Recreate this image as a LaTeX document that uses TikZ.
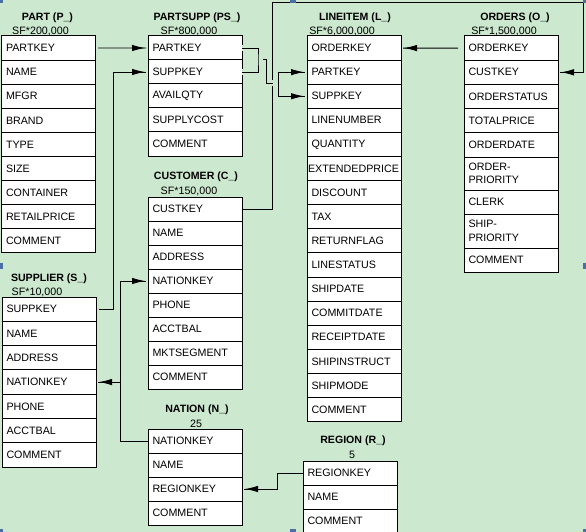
\documentclass[tikz,border=0pt]{standalone}
\usepackage{fontspec}
\setmainfont{Liberation Sans}
\usepackage{tikz}
\usetikzlibrary{arrows.meta,positioning,decorations.markings}

\definecolor{sheetgreen}{RGB}{204,232,207}
\definecolor{handleblue}{RGB}{74,110,165}
\newcommand\rowfont{\fontsize{10.7}{13.5}\selectfont}
\newcommand\titlefont{\bfseries\fontsize{10.6}{12}\selectfont}

\tikzset{
  field/.style={draw, fill=white, line width=1pt, outer sep=0pt, anchor=north west,
    text width=85pt, inner xsep=4.5pt, inner ysep=0pt,
    minimum height=24.1pt, align=left, font=\rowfont},
  tbltitle/.style={font=\titlefont, inner sep=0pt},
  tblsize/.style={font=\rowfont, inner sep=0pt},
  link/.style={line width=0.9pt},
  fk/.style={link, shorten >=2pt, postaction={decorate},
    decoration={markings, mark=at position -3pt with {\arrow{Latex[length=13pt,width=6.5pt]}}}},
  bridge/.style={link, preaction={draw=sheetgreen, line width=6pt}},
  handle/.style={fill=handleblue},
}

\begin{document}
\begin{tikzpicture}[x=1pt,y=-1pt]
  \useasboundingbox (0,0) rectangle (586,532);
  \fill[sheetgreen] (0,0) rectangle (586,532);
  \clip (0,0) rectangle (586,532);

  % PART
  \node[tbltitle] (part-title) at (47.5,18) {PART (P\_)};
  \node[tblsize] (part-sf) at (40.5,31.5) {SF*200,000};
  \foreach \f [count=\i] in {PARTKEY,NAME,MFGR,BRAND,TYPE,SIZE,CONTAINER,RETAILPRICE,COMMENT}
    \node[field] (part-\i) at (1.5,{36+24.1*(\i-1)}) {\f};

  % PARTSUPP
  \node[tbltitle] (ps-title) at (197,18) {PARTSUPP (PS\_)};
  \node[tblsize] (ps-sf) at (189,31.5) {SF*800,000};
  \foreach \f [count=\i] in {PARTKEY,SUPPKEY,AVAILQTY,SUPPLYCOST,COMMENT}
    \node[field, minimum height=24pt] (ps-\i) at (148,{36+24*(\i-1)}) {\f};

  % CUSTOMER
  \node[tbltitle] (cust-title) at (196,177) {CUSTOMER (C\_)};
  \node[tblsize] (cust-sf) at (189,191.5) {SF*150,000};
  \foreach \f [count=\i] in {CUSTKEY,NAME,ADDRESS,NATIONKEY,PHONE,ACCTBAL,MKTSEGMENT,COMMENT}
    \node[field, minimum height=24pt] (cust-\i) at (148,{197+24*(\i-1)}) {\f};

  % SUPPLIER
  \node[tbltitle] (supp-title) at (49,279) {SUPPLIER (S\_)};
  \node[tblsize] (supp-sf) at (37,292.5) {SF*10,000};
  \foreach \f [count=\i] in {SUPPKEY,NAME,ADDRESS,NATIONKEY,PHONE,ACCTBAL,COMMENT}
    \node[field, minimum height=24.3pt] (supp-\i) at (2,{297+24.3*(\i-1)}) {\f};

  % NATION
  \node[tbltitle] (nation-title) at (197,410) {NATION (N\_)};
  \node[tblsize] (nation-sf) at (196,423.5) {25};
  \foreach \f [count=\i] in {NATIONKEY,NAME,REGIONKEY,COMMENT}
    \node[field, minimum height=24pt] (nation-\i) at (148,{429+24*(\i-1)}) {\f};

  % LINEITEM
  \node[tbltitle] (li-title) at (355,18) {LINEITEM (L\_)};
  \node[tblsize] (li-sf) at (342,31.5) {SF*6,000,000};
  \foreach \f [count=\i] in {ORDERKEY,PARTKEY,SUPPKEY,LINENUMBER,QUANTITY,{\hspace*{-3.5pt}\mbox{EXTENDEDPRICE}},DISCOUNT,TAX,RETURNFLAG,LINESTATUS,SHIPDATE,COMMITDATE,RECEIPTDATE,SHIPINSTRUCT,SHIPMODE,COMMENT}
    \node[field] (li-\i) at (307,{36+24.1*(\i-1)}) {\f};

  % ORDERS
  \node[tbltitle] (orders-title) at (515,18) {ORDERS (O\_)};
  \node[tblsize] (orders-sf) at (504,31.5) {SF*1,500,000};
  \node[field, minimum height=24.2pt] (orders-1) at (464,36) {ORDERKEY};
  \node[field, minimum height=24.2pt, below=0pt of orders-1] (orders-2) {CUSTKEY};
  \node[field, minimum height=24.2pt, below=0pt of orders-2] (orders-3) {ORDERSTATUS};
  \node[field, minimum height=24.2pt, below=0pt of orders-3] (orders-4) {TOTALPRICE};
  \node[field, minimum height=24.2pt, below=0pt of orders-4] (orders-5) {ORDERDATE};
  \node[field, minimum height=33pt, below=0pt of orders-5] (orders-6) {ORDER-\\PRIORITY};
  \node[field, minimum height=24pt, below=0pt of orders-6] (orders-7) {CLERK};
  \node[field, minimum height=34pt, below=0pt of orders-7] (orders-8) {SHIP-\\PRIORITY};
  \node[field, minimum height=24pt, below=0pt of orders-8] (orders-9) {COMMENT};

  % REGION
  \node[tbltitle] (region-title) at (353,441) {REGION (R\_)};
  \node[tblsize] (region-sf) at (352,454.5) {5};
  \foreach \f [count=\i] in {REGIONKEY,NAME,COMMENT}
    \node[field, minimum height=24pt] (region-\i) at (303,{461+24*(\i-1)}) {\f};

  % keys
  \coordinate (topl) at (272,2);
  \coordinate (topr) at (583,2);
  \coordinate (psj) at (258,59);
  \coordinate (lij) at (278,83);

  \draw[fk, shorten <=2.5pt] (part-1.east) -- (ps-1.west);
  \draw[fk, shorten <=2.5pt] (supp-1.east) -- ++(17,0) |- (ps-2.west);
  \draw[fk] (nation-1.west) -- ++(-28,0) |- (cust-4.west);
  \draw[fk] (nation-1.west) -- ++(-28,0) |- (supp-4.east);
  \draw[fk] (region-1.west) -- ++(-26,0) |- (nation-3.east);
  \draw[fk, shorten <=6pt] (orders-1.west) -- (li-1.east);
  \draw[fk] (cust-1.east) -| (topl) -- (topr) |- (orders-2.east);

  \draw[bridge, shorten <=5pt, shorten >=5pt] (ps-1.east) -| (psj) |- (ps-2.east)
    (psj) -- ++(8,0) |- (lij);
  \draw[fk] (lij) |- (li-2.west);
  \draw[fk] (lij) |- (li-3.west);

  % selection handles
  \foreach \hx/\hy in {0/0,293/0,586/0,0/266,586/266,0/532,293/532,586/532}
    \fill[handle] (\hx-3,\hy-3) rectangle ++(6,6);
\end{tikzpicture}
\end{document}
